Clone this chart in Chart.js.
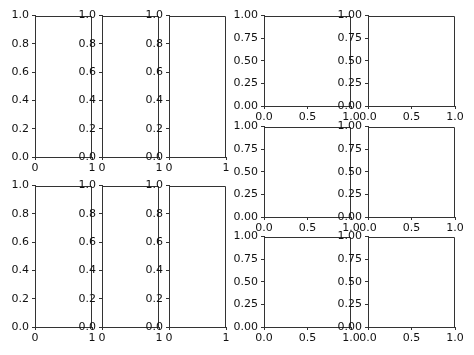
<!DOCTYPE html>
<html>
<head>
<meta charset="utf-8">
<script src="https://cdn.jsdelivr.net/npm/chart.js@4"></script>
<style>
  html, body { margin: 0; padding: 0; background: #fff; }
  #fig { position: relative; width: 474px; height: 355px; overflow: hidden; background: #fff; }
  #fig canvas { position: absolute; }
</style>
</head>
<body>
<div id="fig"></div>
<script>
// tick values for the two groups of empty axes
const leftXTicks = [0, 1];
const leftYTicks = [0, 0.2, 0.4, 0.6, 0.8, 1.0];
const rightXTicks = [0, 0.5, 1.0];
const rightYTicks = [0, 0.25, 0.5, 0.75, 1.0];

// axes boxes in pixels: [left, top, width, height, group]
const panels = [
  [35, 15, 57, 142, 'left'], [102, 15, 57, 142, 'left'], [169, 15, 57, 142, 'left'],
  [35, 185, 57, 142, 'left'], [102, 185, 57, 142, 'left'], [169, 185, 57, 142, 'left'],
  [264, 15, 87, 91, 'right'], [368, 15, 87, 91, 'right'],
  [264, 126, 87, 91, 'right'], [368, 126, 87, 91, 'right'],
  [264, 236, 87, 91, 'right'], [368, 236, 87, 91, 'right']
];

const groups = {
  left: { x: leftXTicks, y: leftYTicks, xDec: 0, yDec: 1 },
  right: { x: rightXTicks, y: rightYTicks, xDec: 1, yDec: 2 }
};

const INK = '#333';
const YW = 40, XH = 22;
const PAD = { top: 9, right: 12, bottom: 4, left: 4 };

Chart.defaults.font.family = '"DejaVu Sans", sans-serif';
Chart.defaults.font.size = 11;
Chart.defaults.color = '#111';
Chart.defaults.animation = false;

// top and right spines
const frame = {
  id: 'frame',
  afterDraw(chart) {
    const a = chart.chartArea, ctx = chart.ctx;
    const l = Math.round(a.left), t = Math.round(a.top) + 0.5;
    const r = Math.round(a.right) - 0.5, b = Math.round(a.bottom);
    ctx.save();
    ctx.strokeStyle = INK;
    ctx.lineWidth = 1;
    ctx.beginPath();
    ctx.moveTo(l, t); ctx.lineTo(r, t); ctx.lineTo(r, b);
    ctx.stroke();
    ctx.restore();
  }
};

const makeScale = (vals, dec, axis) => ({
  type: 'linear',
  position: axis === 'x' ? 'bottom' : 'left',
  min: 0, max: 1,
  afterBuildTicks: s => { s.ticks = vals.map(v => ({ value: v })); },
  afterFit: s => { if (axis === 'x') s.height = XH; else s.width = YW; },
  ticks: {
    padding: axis === 'x' ? 2 : 3,
    maxRotation: 0, autoSkip: false,
    callback: v => Number(v).toFixed(dec)
  },
  grid: { drawOnChartArea: false, drawTicks: true, tickLength: 3, color: INK, lineWidth: 1 },
  border: { display: true, color: INK, width: 1 }
});

const fig = document.getElementById('fig');
panels.forEach(([L, T, W, H, g]) => {
  const cfg = groups[g];
  const cv = document.createElement('canvas');
  const cw = PAD.left + YW + W + PAD.right;
  const ch = PAD.top + H + XH + PAD.bottom;
  cv.width = cw; cv.height = ch;
  cv.style.width = cw + 'px'; cv.style.height = ch + 'px';
  cv.style.left = (L - YW - PAD.left) + 'px';
  cv.style.top = (T - PAD.top) + 'px';
  fig.appendChild(cv);
  new Chart(cv, {
    type: 'scatter',
    data: { datasets: [{ data: [] }] },
    options: {
      responsive: false,
      devicePixelRatio: 1,
      layout: { padding: PAD },
      plugins: { legend: { display: false }, tooltip: { enabled: false } },
      scales: {
        x: makeScale(cfg.x, cfg.xDec, 'x'),
        y: makeScale(cfg.y, cfg.yDec, 'y')
      }
    },
    plugins: [frame]
  });
});
</script>
</body>
</html>
